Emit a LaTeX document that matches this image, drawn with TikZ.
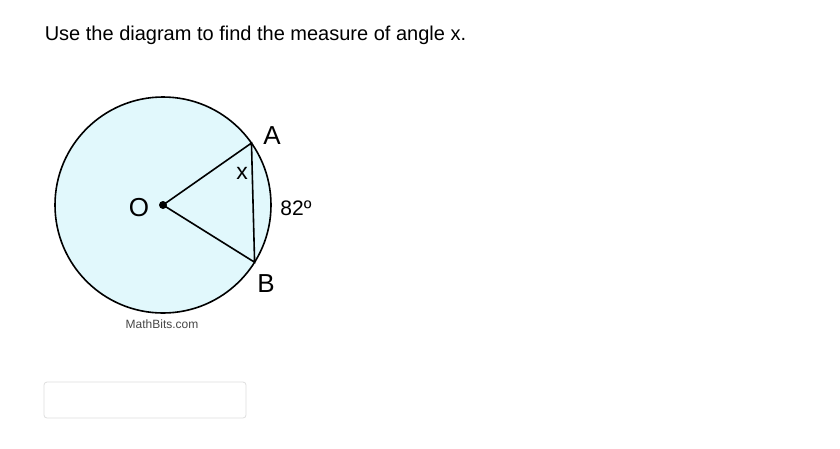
\documentclass[tikz,border=0pt]{standalone}
\usepackage{fontspec}
\setmainfont{Liberation Sans}
\usetikzlibrary{calc, positioning}
\definecolor{disc}{RGB}{225,248,252}
\definecolor{boxline}{RGB}{222,222,222}
\definecolor{credit}{RGB}{70,70,70}

\begin{document}
\begin{tikzpicture}[x=1pt, y=-1pt, line width=1.6pt,
    pt/.style={font=\fontsize{26}{26}\selectfont, inner sep=0pt}]
        \useasboundingbox (0,0) rectangle (840,448);
        \node[anchor=base west, inner sep=0pt, font=\fontsize{20}{20}\selectfont] (q) at (44,40) {Use the diagram to find the measure of angle x.};

        \coordinate (O) at (163,205);
        \coordinate (A) at ($(O)+(32:108pt and -108pt)$);
        \coordinate (B) at ($(O)+(-35:108pt and -108pt)$);
        \fill[disc] (O) circle (108);
        \draw (O) circle (108);
        \draw (O) -- (A) -- (B) -- cycle;
        \fill (O) circle (4);

        \node[pt] (o) at (139,208) {O};
        \node[pt] (a) at (272,136) {A};
        \node[pt] (b) at (266,284) {B};
        \node[inner sep=0pt, font=\fontsize{23}{23}\selectfont] (x) at (242,173) {x};
        \node[inner sep=0pt, font=\fontsize{21}{21}\selectfont] (arc) at (296,208) {82º};
        \node[inner sep=0pt, text=credit, font=\fontsize{12}{12}\selectfont] (mb) at (162,324) {MathBits.com};

        \draw[boxline, line width=0.8pt, rounded corners=3pt] (44,382) rectangle (246,418);
    \end{tikzpicture}
\end{document}
